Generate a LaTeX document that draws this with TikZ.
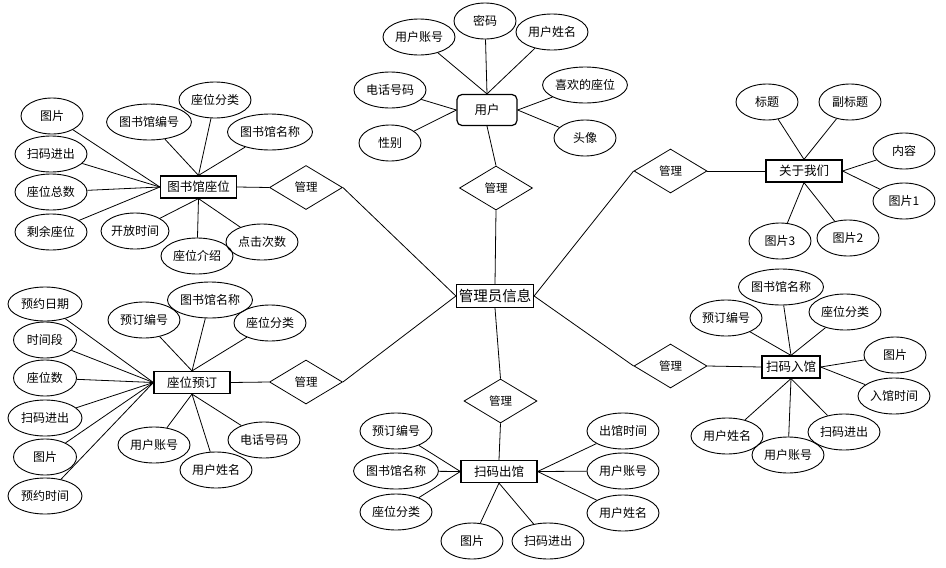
\documentclass[tikz,border=0pt]{standalone}
\usepackage{fontspec}
\usepackage{tikz}
\newfontfamily\cjk{Noto Sans CJK SC}
\usetikzlibrary{shapes.geometric, positioning, calc}

\tikzset{
    attr/.style={ellipse, draw, line width=0.9pt, inner sep=0pt,
        minimum width=72pt, minimum height=36pt, font=\cjk\fontsize{12}{14}\selectfont},
    attrS/.style={attr, minimum width=62pt},
    attrL/.style={attr, minimum width=85pt},
    entity/.style={rectangle, draw, line width=1.2pt, inner sep=0pt,
        minimum width=76pt, minimum height=22pt, font=\cjk\fontsize{12.5}{14}\selectfont},
    rel/.style={diamond, draw, line width=0.8pt, inner sep=0pt,
        minimum width=73pt, minimum height=44pt, font=\cjk\fontsize{11.5}{13}\selectfont},
    link/.style={line width=0.8pt}
}

\begin{document}
\begin{tikzpicture}[x=1pt, y=-1pt]
\useasboundingbox (0,0) rectangle (946,568);
% Centre
\node[entity, minimum width=77pt, minimum height=23pt, font=\cjk\fontsize{14.5}{16}\selectfont] (admin) at (495,296) {管理员信息};

% User
\node[entity, rounded corners=5pt, minimum width=60pt, minimum height=31pt] (user) at (487,110) {用户};
\node[rel] (rel1) at (496,188) {管理};
\node[attr] (uacc) at (419,37) {用户账号};
\node[attrS] (upwd) at (485,21) {密码};
\node[attr] (uname) at (552,32) {用户姓名};
\node[attr] (uphone) at (390,90) {电话号码};
\node[attrS] (usex) at (390,143) {性别};
\node[attr, minimum width=84pt] (ufav) at (585,85) {喜欢的座位};
\node[attrS] (uavatar) at (585,138) {头像};
\foreach \a in {uacc, upwd, uname} \draw[link] (\a) -- (user.north);
\foreach \a in {uphone, usex} \draw[link] (\a) -- (user.west);
\foreach \a in {ufav, uavatar} \draw[link] (\a) -- (user.east);

% Library seat
\node[entity] (seat) at (198.5,187) {图书馆座位};
\node[rel] (rel2) at (306,187.5) {管理};
\node[attrS] (s1) at (52,116) {图片};
\node[attr] (s2) at (51,154) {扫码进出};
\node[attr] (s3) at (51,192) {座位总数};
\node[attr] (s4) at (51,232) {剩余座位};
\node[attr, minimum width=84pt] (s5) at (149,122) {图书馆编号};
\node[attr] (s6) at (215,100) {座位分类};
\node[attrL] (s7) at (270,132) {图书馆名称};
\node[attr, minimum width=64pt] (s8) at (135,231) {开放时间};
\node[attr] (s9) at (197,256) {座位介绍};
\node[attr] (s10) at (262,242) {点击次数};
\foreach \a in {s1, s2, s3, s4} \draw[link] (\a) -- (seat.west);
\foreach \a in {s5, s6, s7} \draw[link] (\a) -- (seat.north);
\foreach \a in {s8, s9, s10} \draw[link] (\a) -- (seat.south);

% Seat booking
\node[entity] (book) at (192,382.5) {座位预订};
\node[rel] (rel3) at (306,382) {管理};
\node[attr, minimum width=74pt, minimum height=34pt] (b1) at (45,304) {预约日期};
\node[attr, minimum width=63pt] (b2) at (45,340) {时间段};
\node[attr, minimum width=63pt] (b3) at (45,378) {座位数};
\node[attr, minimum width=74pt] (b4) at (45,418) {扫码进出};
\node[attr, minimum width=63pt] (b5) at (45,457) {图片};
\node[attr, minimum width=74pt] (b6) at (45,496) {预约时间};
\node[attr] (b7) at (144,320) {预订编号};
\node[attrL] (b8) at (210,300) {图书馆名称};
\node[attr] (b9) at (270,323) {座位分类};
\node[attr] (b10) at (154,445) {用户账号};
\node[attr] (b11) at (216,470) {用户姓名};
\node[attr] (b12) at (264,440) {电话号码};
\foreach \a in {b1, b2, b3, b4, b5, b6} \draw[link] (\a) -- (book.west);
\foreach \a in {b7, b8, b9} \draw[link] (\a) -- (book.north);
\foreach \a in {b10, b11, b12} \draw[link] (\a) -- (book.south);

% About us
\node[entity] (about) at (804,171) {关于我们};
\node[rel] (rel4) at (670.5,171) {管理};
\node[attrS] (a1) at (767,102) {标题};
\node[attrS] (a2) at (850,102) {副标题};
\node[attrS] (a3) at (904,151) {内容};
\node[attrS] (a4) at (904,201) {图片1};
\node[attrS] (a5) at (780,241) {图片3};
\node[attrS] (a6) at (848,238) {图片2};
\foreach \a in {a1, a2} \draw[link] (\a) -- (about.north);
\foreach \a in {a3, a4} \draw[link] (\a) -- (about.east);
\foreach \a in {a5, a6} \draw[link] (\a) -- (about.south);

% Scan in
\node[entity, minimum width=58pt] (scanin) at (791,367) {扫码入馆};
\node[rel] (rel5) at (670.5,366) {管理};
\node[attrL] (i1) at (781,287) {图书馆名称};
\node[attr] (i2) at (726,318) {预订编号};
\node[attr] (i3) at (845,312) {座位分类};
\node[attrS] (i4) at (895,355) {图片};
\node[attr] (i5) at (894,396) {入馆时间};
\node[attr] (i6) at (727,436) {用户姓名};
\node[attr] (i7) at (788,455) {用户账号};
\node[attr] (i8) at (844,432) {扫码进出};
\foreach \a in {i1, i2, i3} \draw[link] (\a) -- (scanin.north);
\foreach \a in {i4, i5} \draw[link] (\a) -- (scanin.east);
\foreach \a in {i6, i7, i8} \draw[link] (\a) -- (scanin.south);

% Scan out
\node[entity] (scanout) at (499,471.5) {扫码出馆};
\node[rel] (rel6) at (500.5,401) {管理};
\node[attr] (o1) at (396,431) {预订编号};
\node[attr, minimum width=84pt] (o2) at (396,471) {图书馆名称};
\node[attr] (o3) at (396,512) {座位分类};
\node[attrS] (o4) at (472,541) {图片};
\node[attr] (o5) at (548,541) {扫码进出};
\node[attr] (o6) at (623,431) {出馆时间};
\node[attr] (o7) at (623,471) {用户账号};
\node[attr] (o8) at (623,513) {用户姓名};
\foreach \a in {o1, o2, o3} \draw[link] (\a) -- (scanout.west);
\foreach \a in {o4, o5} \draw[link] (\a) -- (scanout.south);
\foreach \a in {o6, o7, o8} \draw[link] (\a) -- (scanout.east);

% Relations to the centre
\draw[link] (admin.north) -- (rel1.south);
\draw[link] (rel1.north) -- (user.south);
\draw[link] (admin.west) -- (rel2.east);
\draw[link] (rel2.west) -- (seat.east);
\draw[link] (admin.west) -- (rel3.east);
\draw[link] (rel3.west) -- (book.east);
\draw[link] (admin.east) -- (rel4.west);
\draw[link] (rel4.east) -- (about.west);
\draw[link] (admin.east) -- (rel5.west);
\draw[link] (rel5.east) -- (scanin.west);
\draw[link] (admin.south) -- (rel6.north);
\draw[link] (rel6.south) -- (scanout.north);
\end{tikzpicture}
\end{document}
